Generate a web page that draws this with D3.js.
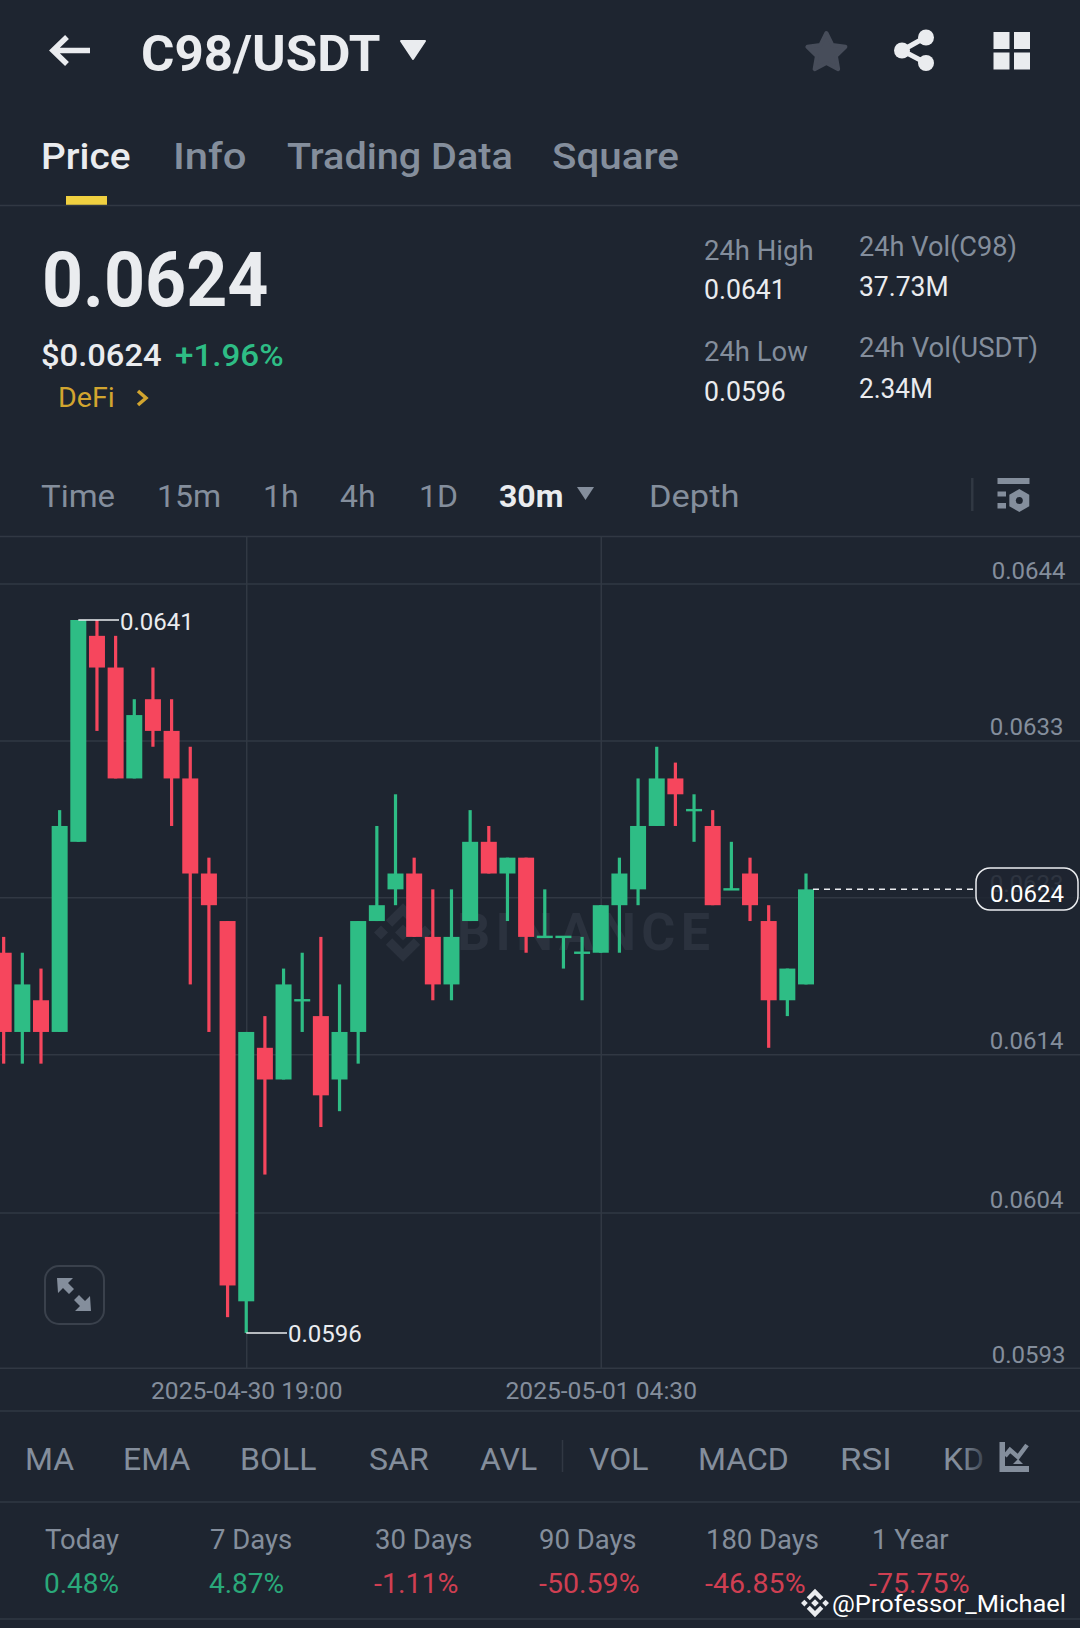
<!DOCTYPE html>
<html>
<head>
<meta charset="utf-8">
<script src="https://cdn.jsdelivr.net/npm/d3@7"></script>
<style>
  html, body { margin: 0; padding: 0; background: #1e2530; }
  svg { display: block; }
  text { font-family: Roboto, sans-serif; }
</style>
</head>
<body>
<div id="root"></div>
<script>
// 30m candles, first one opens 2025-04-30 12:30 UTC
const firstCandle = "2025-04-30T12:30:00Z";
const opens  = [.0620,.0615,.0617,.0615,.0627,.0640,.0638,.0631,.0636,.0634,.0631,.0625,.0622,.0598,.0614,.0612,.0617,.0616,.0612,.0615,.0622,.0624,.0625,.0621,.0618,.0622,.0627,.0625,.0626,.0621,.0621,.0620,.0620,.0623,.0624,.0628,.0631,.0629,.0628,.0624,.0625,.0622,.0617,.0618];
const highs  = [.0621,.0620,.0619,.0629,.0641,.0641,.0640,.0636,.0638,.0636,.0633,.0626,.0622,.0615,.0616,.0619,.0620,.0621,.0618,.0622,.0628,.0630,.0626,.0624,.0624,.0629,.0628,.0626,.0626,.0624,.0621,.0621,.0623,.0626,.0631,.0633,.0632,.0630,.0629,.0627,.0626,.0623,.0619,.0625];
const lows   = [.0613,.0613,.0613,.0615,.0627,.0634,.0631,.0631,.0633,.0628,.0618,.0615,.0597,.0596,.0606,.0612,.0615,.0609,.0610,.0613,.0622,.0623,.0621,.0617,.0617,.0622,.0625,.0622,.0620,.0621,.0619,.0617,.0620,.0620,.0623,.0628,.0628,.0627,.0623,.0624,.0622,.0614,.0616,.0618];
const closes = [.0615,.0618,.0615,.0628,.0641,.0638,.0631,.0635,.0634,.0631,.0625,.0623,.0599,.0615,.0612,.0618,.0617,.0611,.0615,.0622,.0623,.0625,.0621,.0618,.0621,.0627,.0625,.0626,.0621,.0621,.0621,.0620,.0623,.0625,.0628,.0631,.0630,.0629,.0623,.0624,.0623,.0617,.0619,.0624];

const priceTicks = [.06433,.06334,.06235,.06136,.06036,.05938];
const priceLabels = ["0.0644","0.0633","0.0623","0.0614","0.0604","0.0593"];
const timeTicks = ["2025-04-30T19:00:00Z","2025-05-01T04:30:00Z"];

const highValue = .0641, lowValue = .0596, lastValue = .0624;

const tabs = ["Price","Info","Trading Data","Square"];
const intervals = ["Time","15m","1h","4h","1D","30m","Depth"];
const indicators = ["MA","EMA","BOLL","SAR","AVL","VOL","MACD","RSI","KD"];
const periods = ["Today","7 Days","30 Days","90 Days","180 Days","1 Year"];
const periodChange = ["0.48%","4.87%","-1.11%","-50.59%","-46.85%","-75.75%"];

// layout of the text rows
const tabX = [41,173,287,552];
const tabStretch = [1.05,1.13,1.07,1.09];
const intervalX = [41,157,263,340,419,499,649];
const intervalStretch = [1.03,1,1,1,1,1,1.075];
const indicatorX = [25,123,240,369,480,589,698,840,943];
const periodX = [45,210,375,539,706,872];
const changeX = [44,209,374,539,705,869];

const bg = "#1e2530", gridCol = "#313843", dim = "#848e9c", light = "#eaecef";
const green = "#2ebd85", red = "#f6465d";

const svg = d3.select("#root").append("svg").attr("width", 1080).attr("height", 1628);
svg.append("rect").attr("width", 1080).attr("height", 1628).attr("fill", bg);

// stretch squeezes or widens the glyphs, the app's font is a bit narrower than Roboto
function label(txt, x, y, size, fill, weight, anchor, stretch) {
  const t = svg.append("text").text(txt).attr("x", x).attr("y", y)
    .attr("font-size", size).attr("fill", fill)
    .attr("font-weight", weight || 400).attr("text-anchor", anchor || "start");
  if (stretch && stretch !== 1) {
    t.attr("textLength", t.node().getComputedTextLength() * stretch)
      .attr("lengthAdjust", "spacingAndGlyphs");
  }
  return t;
}
function hline(y) {
  svg.append("line").attr("x1", 0).attr("x2", 1080).attr("y1", y).attr("y2", y)
    .attr("stroke", gridCol).attr("stroke-width", 1.5);
}
// binance mark, s is half of its width
function logo(cx, cy, s, col) {
  const k = s / 28, g = svg.append("g").attr("transform", `translate(${cx},${cy}) scale(${k})`);
  g.append("path").attr("d", "M-14 -9L0 -23L14 -9M-14 9L0 23L14 9")
    .attr("fill", "none").attr("stroke", col).attr("stroke-width", 9);
  g.append("path").attr("d", "M0 -8L8 0L0 8L-8 0ZM-22 -7L-15 0L-22 7L-29 0ZM22 -7L29 0L22 7L15 0Z").attr("fill", col);
}

// ---- header
svg.append("path").attr("d", "M90 50.500H54M67 37L53 50.500L67 64").attr("fill", "none")
  .attr("stroke", light).attr("stroke-width", 5.5);
label("C98/USDT", 141, 70.500, 50, light, 700, "start", 1.022);
svg.append("path").attr("d", "M401 41H425L413 59Z").attr("fill", light).attr("stroke", light)
  .attr("stroke-width", 2).attr("stroke-linejoin", "round");
// star
const starPts = d3.range(10).map(i => {
  const r = i % 2 ? 10 : 20, a = i * Math.PI / 5;
  return [826.4 + r * Math.sin(a), 53 - r * Math.cos(a)];
});
svg.append("path").attr("d", d3.line()(starPts) + "Z").attr("fill", "#474d5a")
  .attr("stroke", "#474d5a").attr("stroke-width", 4).attr("stroke-linejoin", "round");
// share
svg.append("path").attr("d", "M926 37L902 50.500L926 63").attr("fill", "none").attr("stroke", light).attr("stroke-width", 5);
[[926,37.500],[902,50.500],[926,63]].forEach(p => svg.append("circle").attr("cx", p[0]).attr("cy", p[1]).attr("r", 8).attr("fill", light));
// app grid
[[993.500,32],[1014,32],[993.500,52.500],[1014,52.500]].forEach(p =>
  svg.append("rect").attr("x", p[0]).attr("y", p[1]).attr("width", 16).attr("height", 17).attr("fill", light));

tabs.forEach((t, i) => label(t, tabX[i], 169, 37, i === 0 ? light : dim, 500, "start", tabStretch[i]));
svg.append("rect").attr("x", 66).attr("y", 196).attr("width", 41).attr("height", 9).attr("fill", "#f0d040");
hline(205.5);

// ---- price block
label("0.0624", 42, 306, 76, light, 700, "start", .943);
label("$0.0624", 41, 366, 31, light, 500, "start", 1.055);
label("+1.96%", 175, 366, 31, green, 500, "start", 1.07);
label("DeFi", 58, 407, 27, "#d2a52f", 400, "start", 1.06);
svg.append("path").attr("d", "M138 391L146 398L138 405").attr("fill", "none").attr("stroke", "#d2a52f").attr("stroke-width", 3.5);
label("24h High", 704, 260, 28, dim, 400, "start", .98);
label("0.0641", 704, 299, 28, light, 400, "start", .95);
label("24h Low", 704, 361, 28, dim, 400, "start", .98);
label("0.0596", 704, 401, 28, light, 400, "start", .95);
label("24h Vol(C98)", 859, 256, 28, dim, 400, "start", .97);
label("37.73M", 859, 296, 28, light, 400, "start", .945);
label("24h Vol(USDT)", 859, 357, 28, dim, 400, "start", .98);
label("2.34M", 859, 398, 28, light, 400, "start", .935);

// ---- interval row
intervals.forEach((t, i) => label(t, intervalX[i], 507, 32, t === "30m" ? light : dim, t === "30m" ? 700 : 400, "start", intervalStretch[i]));
svg.append("path").attr("d", "M577 487H594L585.500 500Z").attr("fill", dim);
svg.append("line").attr("x1", 972.3).attr("x2", 972.3).attr("y1", 478).attr("y2", 511).attr("stroke", gridCol).attr("stroke-width", 2.5);
svg.append("path").attr("d", "M997.500 478H1029.500V484H997.500ZM997.500 491.500H1006V496.500H997.500ZM997.500 503H1006V508.500H997.500Z").attr("fill", dim);
const hexPts = d3.range(6).map(i => [1019.3 + 11.5 * Math.sin(i * Math.PI / 3), 500.5 - 11.5 * Math.cos(i * Math.PI / 3)]);
svg.append("path").attr("d", d3.line()(hexPts) + "Z").attr("fill", dim);
svg.append("circle").attr("cx", 1019.3).attr("cy", 500.5).attr("r", 3.5).attr("fill", bg);
hline(536.5);

// ---- chart
const candles = opens.map((o, i) => ({
  t: d3.utcMinute.offset(new Date(firstCandle), i * 30),
  o, h: highs[i], l: lows[i], c: closes[i]
}));
const x = d3.scaleUtc()
  .domain([new Date(firstCandle), d3.utcMinute.offset(new Date(firstCandle), 43 * 30)])
  .range([3.67, 806]);
const y = d3.scaleLinear().domain([highValue, lowValue]).range([620, 1333]);

// grid + price labels
const yAxis = svg.append("g").attr("transform", "translate(1080,0)")
  .call(d3.axisLeft(y).tickValues(priceTicks).tickSize(1080)
    .tickFormat((d, i) => priceLabels[i]));
yAxis.select(".domain").remove();
yAxis.selectAll("line").attr("stroke", gridCol).attr("stroke-width", 1.5);
yAxis.selectAll("text").attr("x", (d, i) => i === 0 || i === 5 ? -14.5 : -16.5).attr("dy", -5.5).attr("text-anchor", "end")
  .attr("font-size", 24).attr("fill", dim).style("font-family", "Roboto, sans-serif");

// time labels + vertical grid
const xAxis = svg.append("g").attr("transform", "translate(0,1368.5)")
  .call(d3.axisBottom(x).tickValues(timeTicks.map(d => new Date(d))).tickSizeInner(-832).tickSizeOuter(0)
    .tickFormat(d3.utcFormat("%Y-%m-%d %H:%M")));
xAxis.select(".domain").remove();
xAxis.selectAll("line").attr("stroke", gridCol).attr("stroke-width", 1.5);
xAxis.selectAll("text").attr("y", 30).attr("dy", 0).attr("font-size", 24.6).attr("fill", dim)
  .style("font-family", "Roboto, sans-serif");

// watermark
const wm = "#2b323e";
logo(403, 932.5, 28, wm);
const wmText = label("BINANCE", 457, 950, 52, wm, 700);
wmText.attr("textLength", 253);

// candles
const candle = svg.append("g").selectAll("g").data(candles).join("g")
  .attr("fill", d => d.c >= d.o ? green : red);
candle.append("rect")
  .attr("x", d => x(d.t) - 1.6).attr("width", 3.200)
  .attr("y", d => y(d.h)).attr("height", d => y(d.l) - y(d.h));
candle.append("rect")
  .attr("x", d => x(d.t) - 8).attr("width", 16)
  .attr("y", d => y(Math.max(d.o, d.c)) - (d.o === d.c ? 1.2 : 0))
  .attr("height", d => Math.max(2.4, Math.abs(y(d.o) - y(d.c))));

// high / low markers
const hi = candles.find(d => d.h === highValue), lo = candles.find(d => d.l === lowValue);
svg.append("line").attr("x1", x(hi.t)).attr("x2", 119).attr("y1", y(highValue)).attr("y2", y(highValue)).attr("stroke", light).attr("stroke-width", 1.5);
label("0.0641", 120, y(highValue) + 9.500, 24, light);
svg.append("line").attr("x1", x(lo.t)).attr("x2", 287).attr("y1", y(lowValue)).attr("y2", y(lowValue)).attr("stroke", light).attr("stroke-width", 1.5);
label("0.0596", 288, y(lowValue) + 9, 24, light);

// last price
svg.append("line").attr("x1", 813).attr("x2", 975).attr("y1", y(lastValue)).attr("y2", y(lastValue))
  .attr("stroke", light).attr("stroke-width", 1.500).attr("stroke-dasharray", "6 5");
svg.append("rect").attr("x", 976).attr("y", 868).attr("width", 102).attr("height", 42).attr("rx", 14)
  .attr("fill", bg).attr("fill-opacity", .85).attr("stroke", light).attr("stroke-width", 1.5);
label("0.0624", 1027, 902, 24, "#ffffff", 400, "middle");

// expand button
svg.append("rect").attr("x", 45).attr("y", 1266).attr("width", 59).attr("height", 58).attr("rx", 14)
  .attr("fill", "none").attr("stroke", "#3a414c").attr("stroke-width", 2);
svg.append("path").attr("d", "M57 1278H73L68 1283L74 1289L69 1294L63 1288L58 1293ZM91 1311H75L80 1306L74 1300L79 1295L85 1301L90 1296Z").attr("fill", dim);

hline(1411);

// ---- indicators
indicators.forEach((t, i) => label(t, indicatorX[i], 1470, 32, dim, 400, "start", t === "RSI" ? 1.09 : 1));
svg.append("line").attr("x1", 562.5).attr("x2", 562.5).attr("y1", 1440).attr("y2", 1472).attr("stroke", gridCol).attr("stroke-width", 1.5);
// KD runs under the chart icon and fades out
const fade = svg.append("defs").append("linearGradient").attr("id", "fade");
fade.append("stop").attr("offset", 0).attr("stop-color", bg).attr("stop-opacity", 0);
fade.append("stop").attr("offset", 1).attr("stop-color", bg).attr("stop-opacity", 1);
svg.append("rect").attr("x", 962).attr("y", 1440).attr("width", 30).attr("height", 36).attr("fill", "url(#fade)");
svg.append("path").attr("d", "M999.500 1442V1472H1029V1466H1005V1442Z").attr("fill", dim);
svg.append("path").attr("d", "M1005 1456L1010 1450L1018 1457L1027 1445").attr("fill", "none").attr("stroke", dim).attr("stroke-width", 4.5);
svg.append("path").attr("d", "M1013 1464H1023L1018 1459Z").attr("fill", dim);
hline(1502);

// ---- period performance
periods.forEach((t, i) => {
  label(t, periodX[i], 1549, 28, dim, 400, "start", .98);
  const txt = periodChange[i];
  const neg = txt[0] === "-";
  label(txt, changeX[i], 1593, 28, neg ? "#cf3f52" : "#2aa97a", 400, "start", neg ? 1.02 : 1);
});
hline(1619);

// ---- repost watermark
logo(815, 1603, 13.5, "#eaecef");
label("@Professor_Michael", 832, 1612, 24, "#ffffff").attr("textLength", 234).attr("lengthAdjust", "spacingAndGlyphs");
</script>
</body>
</html>
